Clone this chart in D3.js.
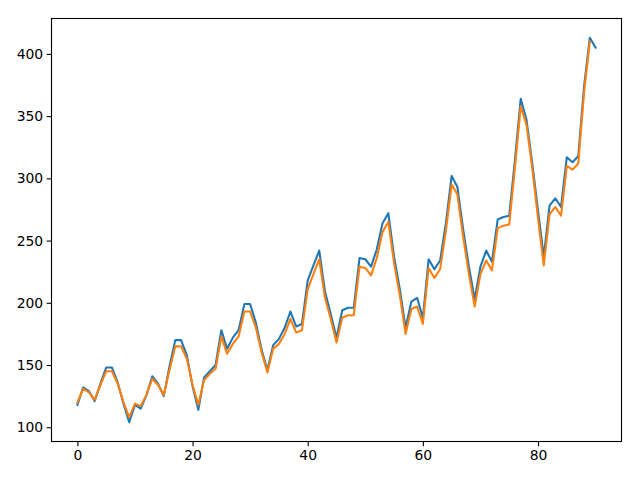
<!DOCTYPE html>
<html>
<head>
<meta charset="utf-8">
<script src="https://cdn.jsdelivr.net/npm/d3@7"></script>
<style>
  html, body { margin: 0; padding: 0; background: #fff; }
  svg { display: block; font-family: "DejaVu Sans", sans-serif; }
</style>
</head>
<body>
<svg id="chart" width="640" height="480"></svg>
<script>
const actual = [118,132,129,121,135,148,148,136,119,104,118,115,126,141,135,125,149,170,170,158,133,114,140,145,150,178,163,172,178,199,199,184,162,146,166,171,180,193,181,183,218,230,242,209,191,172,194,196,196,236,235,229,243,264,272,237,211,180,201,204,188,235,227,234,264,302,293,259,229,203,229,242,233,267,269,270,315,364,347,312,274,237,278,284,277,317,313,318,374,413,405];
const predicted = [120,131,128,122,134,145,145,135,120,108,119,117,126,139,134,126,146,165,165,155,134,118,138,143,147,173,159,167,173,193,193,180,160,144,163,167,175,187,176,178,211,223,235,204,187,168,188,190,190,229,228,222,236,257,265,232,206,175,195,197,183,228,220,227,258,295,287,253,223,197,223,234,226,260,262,263,309,358,343,308,268,230,271,277,270,310,307,312,369,410];
const xTicks = [0,20,40,60,80];
const yTicks = [100,150,200,250,300,350,400];

const svg = d3.select("#chart");
const L = 51.5, R = 621.5, T = 18.5, B = 441.5;

const allVals = actual.concat(predicted);
const xMin = 0, xMax = actual.length - 1;
const xPad = (xMax - xMin) * 0.05;
const yMin = d3.min(allVals), yMax = d3.max(allVals);
const yPad = (yMax - yMin) * 0.05;

const x = d3.scaleLinear().domain([xMin - xPad, xMax + xPad]).range([L, R]);
const y = d3.scaleLinear().domain([yMin - yPad, yMax + yPad]).range([B, T]);

const line = d3.line().x((d, i) => x(i)).y(d => y(d));

svg.append("path").datum(actual)
  .attr("d", line).attr("fill", "none")
  .attr("stroke", "#1f77b4").attr("stroke-width", 2.08)
  .attr("stroke-linejoin", "round").attr("stroke-linecap", "square");
svg.append("path").datum(predicted)
  .attr("d", line).attr("fill", "none")
  .attr("stroke", "#ff7f0e").attr("stroke-width", 2.08)
  .attr("stroke-linejoin", "round").attr("stroke-linecap", "square");

const xAxis = d3.axisBottom(x).tickValues(xTicks).tickSize(4.86).tickPadding(3.5).tickFormat(d3.format("d"));
const yAxis = d3.axisLeft(y).tickValues(yTicks).tickSize(4.86).tickPadding(3.5).tickFormat(d3.format("d"));

const gx = svg.append("g").attr("transform", `translate(0,${B})`).call(xAxis);
const gy = svg.append("g").attr("transform", `translate(${L},0)`).call(yAxis);
[gx, gy].forEach(g => {
  g.select(".domain").remove();
  g.selectAll(".tick line").attr("stroke", "#000").attr("stroke-width", 1.1);
  g.selectAll(".tick text").attr("fill", "#000").style("font-size", "13.9px")
    .style("font-family", "'DejaVu Sans', sans-serif");
});

svg.append("rect").attr("x", L).attr("y", T).attr("width", R - L).attr("height", B - T)
  .attr("fill", "none").attr("stroke", "#000").attr("stroke-width", 1.1);
</script>
</body>
</html>
